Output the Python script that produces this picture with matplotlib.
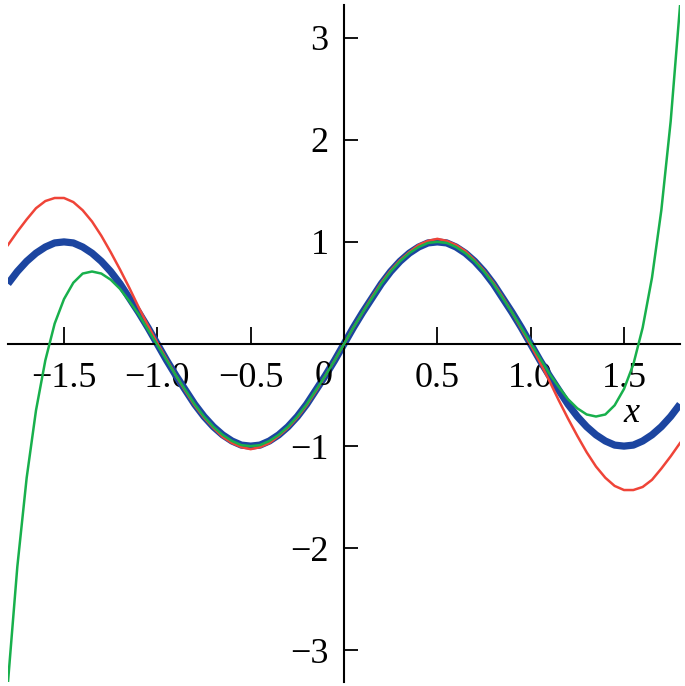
import numpy as np
import matplotlib
matplotlib.use("Agg")
import matplotlib.pyplot as plt

# values for x >= 0, step 0.05 (curves are odd)
x_half = [0.00, 0.05, 0.10, 0.15, 0.20, 0.25, 0.30, 0.35, 0.40, 0.45,
          0.50, 0.55, 0.60, 0.65, 0.70, 0.75, 0.80, 0.85, 0.90, 0.95,
          1.00, 1.05, 1.10, 1.15, 1.20, 1.25, 1.30, 1.35, 1.40, 1.45,
          1.50, 1.55, 1.60, 1.65, 1.70, 1.75, 1.80]
blue_half = [0.00, 0.16, 0.31, 0.45, 0.59, 0.71, 0.81, 0.89, 0.95, 0.99,
             1.00, 0.99, 0.95, 0.89, 0.81, 0.71, 0.59, 0.45, 0.31, 0.16,
             0.00, -0.16, -0.31, -0.45, -0.59, -0.71, -0.81, -0.89, -0.95, -0.99,
             -1.00, -0.99, -0.95, -0.89, -0.81, -0.71, -0.59]
red_half = [0.00, 0.16, 0.31, 0.46, 0.60, 0.72, 0.82, 0.90, 0.97, 1.01,
            1.03, 1.01, 0.97, 0.91, 0.82, 0.72, 0.60, 0.46, 0.31, 0.15,
            -0.01, -0.18, -0.36, -0.55, -0.73, -0.90, -1.06, -1.20, -1.31, -1.39,
            -1.43, -1.43, -1.40, -1.33, -1.22, -1.10, -0.97]
green_half = [0.00, 0.16, 0.31, 0.45, 0.59, 0.71, 0.81, 0.89, 0.95, 0.99,
              1.00, 0.99, 0.95, 0.89, 0.81, 0.71, 0.59, 0.45, 0.31, 0.16,
              0.01, -0.14, -0.29, -0.42, -0.54, -0.63, -0.69, -0.71, -0.69, -0.60,
              -0.44, -0.20, 0.16, 0.65, 1.31, 2.18, 3.31]

xticks = [-1.5, -1.0, -0.5, 0.5, 1.0, 1.5]
xticklabels = ["\u22121.5", "\u22121.0", "\u22120.5", "0.5", "1.0", "1.5"]
yticks = [-3, -2, -1, 1, 2, 3]
yticklabels = ["\u22123", "\u22122", "\u22121", "1", "2", "3"]


def odd(v):
    v = np.array(v)
    return np.concatenate([-v[:0:-1], v])


x = odd(x_half)

plt.rcParams["font.family"] = ["Liberation Serif", "DejaVu Serif"]
fig = plt.figure(figsize=(6.85, 6.86), dpi=100)
ax = fig.add_axes([8 / 685, 4 / 686, 672 / 685, 677 / 686])

ax.plot(x, odd(blue_half), color="#1c45a0", lw=5.2, solid_capstyle="butt", zorder=2)
ax.plot(x, odd(red_half), color="#ef4438", lw=1.8, zorder=3)
ax.plot(x, odd(green_half), color="#18b04c", lw=1.8, zorder=4)

ax.set_xlim(-1.8, 1.8)
ax.set_ylim(-3.31, 3.32)
for s in ["top", "right"]:
    ax.spines[s].set_visible(False)
ax.spines["left"].set_position(("data", 0))
ax.spines["bottom"].set_position(("data", 0))
for s in ["left", "bottom"]:
    ax.spines[s].set_linewidth(1.5)

ax.set_xticks(xticks)
ax.set_xticklabels(xticklabels)
ax.set_yticks(yticks)
ax.set_yticklabels(yticklabels)
# ticks point up from the x axis and right from the y axis
ax.tick_params(axis="x", direction="in", length=12, width=1.3, pad=13, labelsize=26)
ax.tick_params(axis="y", direction="in", length=10, width=1.3, pad=11, labelsize=26)

ax.text(-0.11, -0.16, "0", fontsize=26, ha="center", va="top")
ax.text(1.54, -0.68, "x", fontsize=26, style="italic", ha="center", va="center")

fig.savefig("out.png", dpi=100)
